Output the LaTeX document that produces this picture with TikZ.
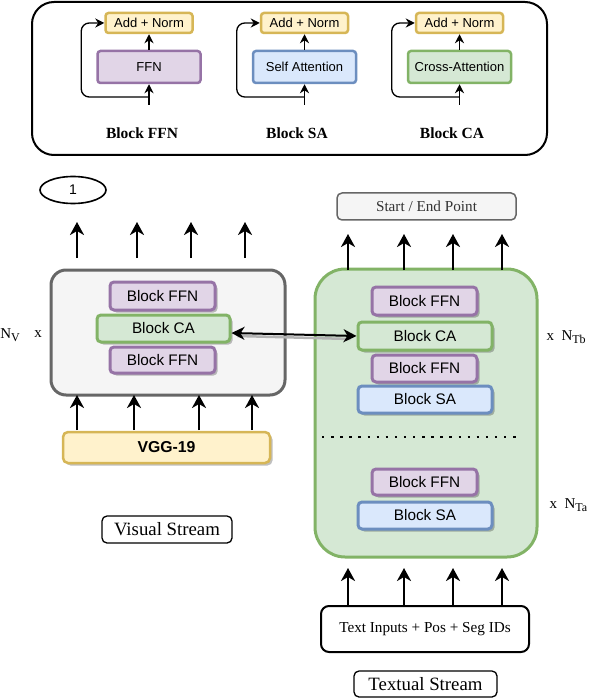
\documentclass[tikz,border=0pt]{standalone}
\usepackage{fontspec}
\setmainfont{Liberation Serif}
\setsansfont{Liberation Sans}
\usetikzlibrary{arrows.meta,shadows,shapes.geometric,calc}
\definecolor{ylwF}{HTML}{FFF2CC}
\definecolor{ylwS}{HTML}{D6B656}
\definecolor{purF}{HTML}{E1D5E7}
\definecolor{purS}{HTML}{9673A6}
\definecolor{bluF}{HTML}{DAE8FC}
\definecolor{bluS}{HTML}{6C8EBF}
\definecolor{grnF}{HTML}{D5E8D4}
\definecolor{grnS}{HTML}{82B366}
\definecolor{gryF}{HTML}{F5F5F5}
\definecolor{gryS}{HTML}{666666}
\definecolor{txtG}{HTML}{333333}
\newcommand{\fs}[1]{\fontsize{#1}{#1}\selectfont}
\begin{document}
\begin{tikzpicture}[x=1pt,y=-1pt,
  shad/.style={drop shadow={shadow xshift=2.5pt,shadow yshift=-2.5pt,fill=black,opacity=0.25}},
  blk/.style={draw,line width=3pt,rounded corners=4pt,inner sep=0pt,minimum height=27pt,font=\sffamily\fs{15.3},shad},
  ffnb/.style={blk,draw=purS,fill=purF,minimum width=105pt},
  cab/.style={blk,draw=grnS,fill=grnF,minimum width=134pt},
  sab/.style={blk,draw=bluS,fill=bluF,minimum width=134pt},
  smb/.style={draw,line width=2.5pt,rounded corners=3pt,inner sep=0pt,font=\sffamily\fs{13}},
  anb/.style={smb,draw=ylwS,fill=ylwF,minimum width=87pt,minimum height=20pt},
  opb/.style={smb,minimum width=103pt,minimum height=32pt},
  smarr/.style={line width=1.3pt,-{Stealth[length=9pt,width=9pt,inset=3pt]}},
  bigarr/.style={line width=2.6pt,-{Stealth[length=13pt,width=14pt,inset=4pt]}},
  lbl/.style={font=\bfseries\fs{15.5}},
  stb/.style={draw,rounded corners=5pt,inner sep=0pt,font=\fs{18.8}}
]
\useasboundingbox (0,0) rectangle (588,700);

% ---------- legend box ----------
\node[draw,line width=2pt,rounded corners=22pt,minimum width=515pt,minimum height=153pt,inner sep=0pt] (legend) at (289.5,78.5) {};

\foreach \n/\cx/\txt/\fc/\sc in {F/149/FFN/purF/purS, S/304.5/Self Attention/bluF/bluS, C/459.5/Cross-Attention/grnF/grnS}{
  \node[anb] (an\n) at (\cx,23) {Add + Norm};
  \node[opb,draw=\sc,fill=\fc] (op\n) at (\cx,67) {\txt};
  \coordinate (in\n) at (\cx,105);
  \coordinate (sk\n) at (\cx,97);
  \draw[smarr] (in\n) -- (op\n.south);
  \draw[smarr] (op\n.north) -- (an\n.south);
  \draw[smarr,rounded corners=8pt] (sk\n) -| ($(an\n.west)+(-23,0)$) -- (an\n.west);
}
\node[lbl] (lF) at (142,133) {Block FFN};
\node[lbl] (lS) at (297,133) {Block SA};
\node[lbl] (lC) at (452,133) {Block CA};

% ---------- visual stream ----------
\node[draw,line width=1.6pt,ellipse,minimum width=66pt,minimum height=27pt,inner sep=0pt,font=\sffamily\fs{14}] (one) at (73,190) {1};

\node[draw=gryS,fill=gryF,line width=3pt,rounded corners=15pt,minimum width=234pt,minimum height=125pt,inner sep=0pt] (vis) at (168,332.5) {};
\node[ffnb,minimum height=28pt] (vffn1) at (162.5,296) {Block FFN};
\node[cab,minimum width=133pt] (vca) at (163.5,328.5) {Block CA};
\node[ffnb,minimum height=26pt] (vffn2) at (162.5,360) {Block FFN};

\node[draw=ylwS,fill=ylwF,line width=2.5pt,rounded corners=5pt,minimum width=207pt,minimum height=31pt,inner sep=0pt,font=\sffamily\bfseries\fs{15.8},shad] (vgg) at (166.5,447.5) {VGG-19};

\foreach \i/\x in {1/77,2/137,3/191,4/245}{
  \coordinate (vos\i) at (\x,258);
  \coordinate (vot\i) at (\x,222);
  \draw[bigarr] (vos\i) -- (vot\i);
}
\foreach \i/\x in {1/77,2/134,3/199,4/252}{
  \coordinate (vis\i) at (\x,430);
  \coordinate (vit\i) at (\x,395);
  \draw[bigarr] (vis\i) -- (vit\i);
}

\node[font=\fs{15}] (nv) at (10,335) {N\raisebox{-0.35ex}{\fs{12}V}};
\node[font=\fs{15}] (nvx) at (38,334) {x};

\node[stb,line width=1.3pt,minimum width=130pt,minimum height=27pt] (vstream) at (167,529.5) {Visual Stream};

% ---------- textual stream ----------
\node[draw=gryS,fill=gryF,line width=1.5pt,rounded corners=5pt,minimum width=179pt,minimum height=27pt,inner sep=0pt,font=\fs{15.2},text=txtG] (se) at (426.5,206.5) {Start / End Point};

\node[draw=grnS,fill=grnF,line width=3pt,rounded corners=30pt,minimum width=222pt,minimum height=288pt,inner sep=0pt] (txt) at (426,413) {};
\node[ffnb,minimum height=28pt] (tffn1) at (424.5,301) {Block FFN};
\node[cab,minimum height=28pt] (tca) at (425,336) {Block CA};
\node[ffnb] (tffn2) at (424.5,368.5) {Block FFN};
\node[sab] (tsa1) at (425,399.5) {Block SA};
\coordinate (dl) at (322,437);
\coordinate (dr) at (522,437);
\draw[line width=2.4pt,dash pattern=on 2.4pt off 6.7pt] (dl) -- (dr);
\node[ffnb,minimum height=26pt] (tffn3) at (424.5,482) {Block FFN};
\node[sab] (tsa2) at (425,515.5) {Block SA};

\foreach \i/\x in {1/348,2/404,3/453,4/502}{
  \coordinate (tos\i) at (\x,270);
  \coordinate (tot\i) at (\x,234);
  \draw[bigarr] (tos\i) -- (tot\i);
  \coordinate (tis\i) at (\x,606);
  \coordinate (tit\i) at (\x,568);
  \draw[bigarr] (tis\i) -- (tit\i);
}

\node[draw,line width=2pt,rounded corners=8pt,minimum width=208pt,minimum height=46pt,inner sep=0pt,font=\fs{15.2}] (tin) at (425,629) {Text Inputs + Pos + Seg IDs};
\node[stb,line width=1.3pt,minimum width=143pt,minimum height=26pt] (tstream) at (425.5,684) {Textual Stream};

\node[font=\fs{15},anchor=west] (ntb) at (543,337) {x\enspace N\raisebox{-0.35ex}{\fs{12}Tb}};
\node[font=\fs{15},anchor=west] (nta) at (546,505) {x\enspace N\raisebox{-0.35ex}{\fs{12}Ta}};

% ---------- cross connection ----------
\draw[line width=2.5pt,black!30] ($(vca.east)+(6,7.5)$) -- ($(tca.west)+(-6,3)$);
\draw[line width=2pt,{Stealth[length=13pt,width=13pt,inset=4pt]}-{Stealth[length=13pt,width=13pt,inset=4pt]}] ($(vca.east)+(0,4.5)$) -- (tca.west);
\end{tikzpicture}
\end{document}
